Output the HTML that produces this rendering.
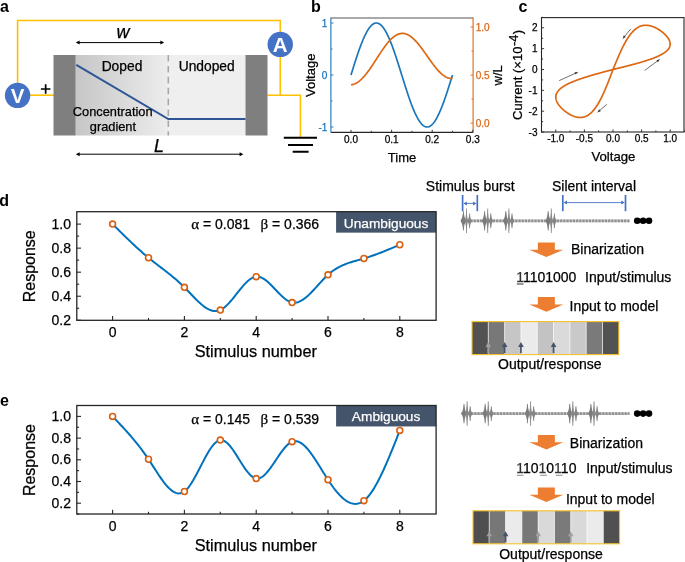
<!DOCTYPE html>
<html><head><meta charset="utf-8"><style>
html,body{margin:0;padding:0;background:#fff;width:685px;height:562px;overflow:hidden}
svg{display:block}
</style></head><body>
<svg width="685" height="562" viewBox="0 0 685 562" font-family="'Liberation Sans', Arial, sans-serif">
<rect width="685" height="562" fill="#fff"/>
<text x="0" y="12" font-size="16" text-anchor="start" fill="#000" font-weight="bold">a</text>
<g fill="none" stroke="#ffc000" stroke-width="1.6">
<path d="M17.6 84 V20.5 H280.25 V33"/>
<path d="M280.25 56 V95.2"/>
<path d="M30 95.2 H54"/>
<path d="M267.5 95.2 H300.4 V137"/>
</g>
<g stroke="#000" stroke-width="1.9">
<path d="M283.8 137.7 H317 M288 145 H313 M292.7 151.7 H308.6"/>
</g>
<defs><linearGradient id="gr" x1="0" x2="1" y1="0" y2="0"><stop offset="0" stop-color="#c6c6c6"/><stop offset="1" stop-color="#ededed"/></linearGradient></defs>
<rect x="75.6" y="55" width="92.7" height="80.5" fill="url(#gr)"/>
<rect x="168.3" y="55" width="77.2" height="80.5" fill="#efefef"/>
<rect x="53.5" y="55" width="22.1" height="80.5" fill="#7f7f7f"/>
<rect x="245.5" y="55" width="22" height="80.5" fill="#7f7f7f"/>
<line x1="168.3" y1="55" x2="168.3" y2="135.5" stroke="#a8a8a8" stroke-width="1.6" stroke-dasharray="6.6 4.3"/>
<path d="M76.3 64.8 L168.3 119 H245.5" fill="none" stroke="#2f5597" stroke-width="2"/>
<circle cx="17.6" cy="95.4" r="12.7" fill="#4472c4"/>
<text x="17.6" y="103.2" font-size="20.5" text-anchor="middle" fill="#fff" font-weight="bold">V</text>
<circle cx="280.25" cy="44.4" r="12.7" fill="#4472c4"/>
<text x="280.25" y="51.7" font-size="20.5" text-anchor="middle" fill="#fff" font-weight="bold">A</text>
<path d="M40.9 89 H50.4 M45.65 84.3 V93.8" stroke="#000" stroke-width="1.7"/>
<text x="122" y="71.4" font-size="13.8" text-anchor="middle" fill="#000" stroke="#000" stroke-width="0.25" >Doped</text>
<text x="206.7" y="71.4" font-size="13.8" text-anchor="middle" fill="#000" stroke="#000" stroke-width="0.25" >Undoped</text>
<text x="112.7" y="116.2" font-size="12.8" text-anchor="middle" fill="#000" stroke="#000" stroke-width="0.25" >Concentration</text>
<text x="112.9" y="131.4" font-size="12.8" text-anchor="middle" fill="#000" stroke="#000" stroke-width="0.25" >gradient</text>
<line x1="78.8" y1="42.6" x2="161.2" y2="42.6" stroke="#000" stroke-width="1"/>
<path d="M75.8 42.6 l3.8 -2 v4 z M164.2 42.6 l-3.8 -2 v4 z" fill="#000"/>
<line x1="78.8" y1="154.2" x2="240.4" y2="154.2" stroke="#000" stroke-width="1"/>
<path d="M75.8 154.2 l3.8 -2 v4 z M243.4 154.2 l-3.8 -2 v4 z" fill="#000"/>
<text x="123" y="37.5" font-size="18" text-anchor="middle" fill="#000" stroke="#000" stroke-width="0.25" font-style="italic">w</text>
<text x="159" y="151.8" font-size="18" text-anchor="middle" fill="#000" stroke="#000" stroke-width="0.25" font-style="italic">L</text>
<text x="311" y="11.6" font-size="16" text-anchor="start" fill="#000" font-weight="bold">b</text>
<polyline points="351.00,75.00 351.51,73.36 352.02,71.72 352.53,70.08 353.04,68.45 353.55,66.82 354.06,65.21 354.57,63.60 355.08,62.00 355.59,60.42 356.10,58.85 356.61,57.30 357.12,55.77 357.63,54.25 358.14,52.76 358.65,51.28 359.16,49.83 359.67,48.41 360.18,47.01 360.69,45.64 361.20,44.30 361.71,42.99 362.22,41.71 362.73,40.47 363.24,39.26 363.75,38.09 364.26,36.95 364.77,35.85 365.28,34.79 365.79,33.77 366.30,32.79 366.81,31.85 367.32,30.95 367.83,30.10 368.34,29.30 368.85,28.54 369.36,27.82 369.87,27.16 370.38,26.54 370.89,25.97 371.40,25.44 371.91,24.97 372.42,24.55 372.93,24.18 373.44,23.85 373.95,23.58 374.46,23.36 374.97,23.20 375.48,23.08 375.99,23.01 376.50,23.00 377.01,23.04 377.52,23.13 378.03,23.27 378.54,23.47 379.05,23.71 379.56,24.01 380.07,24.36 380.58,24.75 381.09,25.20 381.60,25.70 382.11,26.25 382.62,26.84 383.13,27.48 383.64,28.18 384.15,28.91 384.66,29.70 385.17,30.52 385.68,31.40 386.19,32.31 386.70,33.27 387.21,34.27 387.72,35.31 388.23,36.39 388.74,37.51 389.25,38.67 389.76,39.86 390.27,41.09 390.78,42.35 391.29,43.64 391.80,44.97 392.31,46.32 392.82,47.71 393.33,49.12 393.84,50.56 394.35,52.02 394.86,53.50 395.37,55.01 395.88,56.53 396.39,58.07 396.90,59.64 397.41,61.21 397.92,62.80 398.43,64.40 398.94,66.02 399.45,67.64 399.96,69.27 400.47,70.90 400.98,72.54 401.49,74.18 402.01,75.82 402.52,77.46 403.03,79.10 403.54,80.73 404.05,82.36 404.56,83.98 405.07,85.60 405.58,87.20 406.09,88.79 406.60,90.36 407.11,91.93 407.62,93.47 408.13,94.99 408.64,96.50 409.15,97.98 409.66,99.44 410.17,100.88 410.68,102.29 411.19,103.68 411.70,105.03 412.21,106.36 412.72,107.65 413.23,108.91 413.74,110.14 414.25,111.33 414.76,112.49 415.27,113.61 415.78,114.69 416.29,115.73 416.80,116.73 417.31,117.69 417.82,118.60 418.33,119.48 418.84,120.30 419.35,121.09 419.86,121.82 420.37,122.52 420.88,123.16 421.39,123.75 421.90,124.30 422.41,124.80 422.92,125.25 423.43,125.64 423.94,125.99 424.45,126.29 424.96,126.53 425.47,126.73 425.98,126.87 426.49,126.96 427.00,127.00 427.51,126.99 428.02,126.92 428.53,126.80 429.04,126.64 429.55,126.42 430.06,126.15 430.57,125.82 431.08,125.45 431.59,125.03 432.10,124.56 432.61,124.03 433.12,123.46 433.63,122.84 434.14,122.18 434.65,121.46 435.16,120.70 435.67,119.90 436.18,119.05 436.69,118.15 437.20,117.21 437.71,116.23 438.22,115.21 438.73,114.15 439.24,113.05 439.75,111.91 440.26,110.74 440.77,109.53 441.28,108.29 441.79,107.01 442.30,105.70 442.81,104.36 443.32,102.99 443.83,101.59 444.34,100.17 444.85,98.72 445.36,97.24 445.87,95.75 446.38,94.23 446.89,92.70 447.40,91.15 447.91,89.58 448.42,88.00 448.93,86.40 449.44,84.79 449.95,83.18 450.46,81.55 450.97,79.92 451.48,78.28 451.99,76.64 452.50,75.00" fill="none" stroke="#1a77bb" stroke-width="1.7"/>
<polyline points="351.00,84.76 351.51,84.72 352.02,84.65 352.53,84.56 353.04,84.44 353.55,84.30 354.06,84.14 354.57,83.95 355.08,83.74 355.59,83.51 356.10,83.25 356.61,82.98 357.12,82.67 357.63,82.35 358.14,82.00 358.65,81.64 359.16,81.25 359.67,80.84 360.18,80.41 360.69,79.96 361.20,79.48 361.71,78.99 362.22,78.48 362.73,77.96 363.24,77.41 363.75,76.85 364.26,76.27 364.77,75.67 365.28,75.06 365.79,74.43 366.30,73.79 366.81,73.13 367.32,72.47 367.83,71.78 368.34,71.09 368.85,70.38 369.36,69.67 369.87,68.94 370.38,68.20 370.89,67.46 371.40,66.71 371.91,65.95 372.42,65.18 372.93,64.41 373.44,63.63 373.95,62.85 374.46,62.06 374.97,61.27 375.48,60.48 375.99,59.69 376.50,58.90 377.01,58.11 377.52,57.32 378.03,56.53 378.54,55.74 379.05,54.95 379.56,54.17 380.07,53.40 380.58,52.63 381.09,51.87 381.60,51.11 382.11,50.36 382.62,49.62 383.13,48.89 383.64,48.17 384.15,47.46 384.66,46.76 385.17,46.07 385.68,45.39 386.19,44.73 386.70,44.08 387.21,43.44 387.72,42.82 388.23,42.22 388.74,41.63 389.25,41.06 389.76,40.51 390.27,39.97 390.78,39.45 391.29,38.95 391.80,38.47 392.31,38.01 392.82,37.57 393.33,37.15 393.84,36.75 394.35,36.37 394.86,36.01 395.37,35.68 395.88,35.37 396.39,35.07 396.90,34.81 397.41,34.56 397.92,34.34 398.43,34.14 398.94,33.97 399.45,33.82 399.96,33.69 400.47,33.59 400.98,33.51 401.49,33.45 402.01,33.42 402.52,33.41 403.03,33.43 403.54,33.47 404.05,33.53 404.56,33.62 405.07,33.73 405.58,33.87 406.09,34.03 406.60,34.21 407.11,34.42 407.62,34.64 408.13,34.89 408.64,35.17 409.15,35.46 409.66,35.78 410.17,36.11 410.68,36.47 411.19,36.85 411.70,37.25 412.21,37.66 412.72,38.10 413.23,38.56 413.74,39.03 414.25,39.52 414.76,40.03 415.27,40.56 415.78,41.10 416.29,41.66 416.80,42.23 417.31,42.81 417.82,43.41 418.33,44.03 418.84,44.65 419.35,45.29 419.86,45.94 420.37,46.60 420.88,47.27 421.39,47.94 421.90,48.63 422.41,49.32 422.92,50.02 423.43,50.73 423.94,51.44 424.45,52.16 424.96,52.88 425.47,53.61 425.98,54.33 426.49,55.06 427.00,55.79 427.51,56.52 428.02,57.25 428.53,57.98 429.04,58.70 429.55,59.43 430.06,60.14 430.57,60.86 431.08,61.57 431.59,62.27 432.10,62.97 432.61,63.66 433.12,64.34 433.63,65.02 434.14,65.68 434.65,66.33 435.16,66.98 435.67,67.61 436.18,68.23 436.69,68.83 437.20,69.43 437.71,70.01 438.22,70.57 438.73,71.12 439.24,71.65 439.75,72.17 440.26,72.67 440.77,73.15 441.28,73.62 441.79,74.07 442.30,74.49 442.81,74.90 443.32,75.29 443.83,75.66 444.34,76.01 444.85,76.33 445.36,76.64 445.87,76.92 446.38,77.18 446.89,77.42 447.40,77.64 447.91,77.83 448.42,78.00 448.93,78.15 449.44,78.27 449.95,78.37 450.46,78.45 450.97,78.50 451.48,78.53 451.99,78.53 452.50,78.51" fill="none" stroke="#dd6814" stroke-width="1.7"/>
<line x1="330.9" y1="18" x2="473.1" y2="18" stroke="#555" stroke-width="1.1"/>
<line x1="330.9" y1="132.4" x2="473.1" y2="132.4" stroke="#262626" stroke-width="1.1"/>
<line x1="330.9" y1="17.5" x2="330.9" y2="132.4" stroke="#1a77bb" stroke-width="1.1"/>
<line x1="473.1" y1="17.5" x2="473.1" y2="132.4" stroke="#dd6814" stroke-width="1.1"/>
<line x1="351.00" y1="132.4" x2="351.00" y2="129.8" stroke="#262626" stroke-width="0.9"/>
<text x="351.00" y="143.2" font-size="10" text-anchor="middle" fill="#000" stroke="#000" stroke-width="0.25" >0.0</text>
<line x1="371.30" y1="132.4" x2="371.30" y2="130.8" stroke="#262626" stroke-width="0.9"/>
<line x1="391.60" y1="132.4" x2="391.60" y2="129.8" stroke="#262626" stroke-width="0.9"/>
<text x="391.60" y="143.2" font-size="10" text-anchor="middle" fill="#000" stroke="#000" stroke-width="0.25" >0.1</text>
<line x1="411.90" y1="132.4" x2="411.90" y2="130.8" stroke="#262626" stroke-width="0.9"/>
<line x1="432.20" y1="132.4" x2="432.20" y2="129.8" stroke="#262626" stroke-width="0.9"/>
<text x="432.20" y="143.2" font-size="10" text-anchor="middle" fill="#000" stroke="#000" stroke-width="0.25" >0.2</text>
<line x1="452.50" y1="132.4" x2="452.50" y2="130.8" stroke="#262626" stroke-width="0.9"/>
<line x1="472.80" y1="132.4" x2="472.80" y2="129.8" stroke="#262626" stroke-width="0.9"/>
<text x="472.80" y="143.2" font-size="10" text-anchor="middle" fill="#000" stroke="#000" stroke-width="0.25" >0.3</text>
<line x1="330.9" y1="23.00" x2="333.5" y2="23.00" stroke="#1a77bb" stroke-width="0.9"/>
<text x="327.4" y="26.60" font-size="10" text-anchor="end" fill="#1a77bb" stroke="#1a77bb" stroke-width="0.25" >1</text>
<line x1="330.9" y1="49.00" x2="332.5" y2="49.00" stroke="#1a77bb" stroke-width="0.9"/>
<line x1="330.9" y1="75.00" x2="333.5" y2="75.00" stroke="#1a77bb" stroke-width="0.9"/>
<text x="327.4" y="78.60" font-size="10" text-anchor="end" fill="#1a77bb" stroke="#1a77bb" stroke-width="0.25" >0</text>
<line x1="330.9" y1="101.00" x2="332.5" y2="101.00" stroke="#1a77bb" stroke-width="0.9"/>
<line x1="330.9" y1="127.00" x2="333.5" y2="127.00" stroke="#1a77bb" stroke-width="0.9"/>
<text x="327.4" y="130.60" font-size="10" text-anchor="end" fill="#1a77bb" stroke="#1a77bb" stroke-width="0.25" >-1</text>
<line x1="473.1" y1="123.20" x2="470.5" y2="123.20" stroke="#dd6814" stroke-width="0.9"/>
<text x="475.70000000000005" y="126.80" font-size="10" text-anchor="start" fill="#dd6814" stroke="#dd6814" stroke-width="0.25" >0.0</text>
<line x1="473.1" y1="99.18" x2="471.5" y2="99.18" stroke="#dd6814" stroke-width="0.9"/>
<line x1="473.1" y1="75.15" x2="470.5" y2="75.15" stroke="#dd6814" stroke-width="0.9"/>
<text x="475.70000000000005" y="78.75" font-size="10" text-anchor="start" fill="#dd6814" stroke="#dd6814" stroke-width="0.25" >0.5</text>
<line x1="473.1" y1="51.13" x2="471.5" y2="51.13" stroke="#dd6814" stroke-width="0.9"/>
<line x1="473.1" y1="27.10" x2="470.5" y2="27.10" stroke="#dd6814" stroke-width="0.9"/>
<text x="475.70000000000005" y="30.70" font-size="10" text-anchor="start" fill="#dd6814" stroke="#dd6814" stroke-width="0.25" >1.0</text>
<text x="402" y="162.2" font-size="13" text-anchor="middle" fill="#000" stroke="#000" stroke-width="0.25" >Time</text>
<text transform="translate(314.5 75.3) rotate(-90)" font-size="13" text-anchor="middle" stroke="#000" stroke-width="0.25">Voltage</text>
<text transform="translate(501.5 75.3) rotate(-90)" font-size="13" text-anchor="middle" stroke="#000" stroke-width="0.25">w/L</text>
<text x="518.5" y="11.8" font-size="16" text-anchor="start" fill="#000" font-weight="bold">c</text>
<polyline points="613.00,69.50 613.45,69.39 613.90,69.28 614.35,69.17 614.80,69.06 615.25,68.95 615.70,68.84 616.15,68.73 616.60,68.62 617.04,68.51 617.49,68.40 617.94,68.29 618.39,68.18 618.84,68.07 619.28,67.96 619.73,67.85 620.18,67.74 620.62,67.63 621.07,67.52 621.51,67.41 621.96,67.30 622.40,67.19 622.85,67.08 623.29,66.97 623.73,66.86 624.17,66.75 624.61,66.64 625.05,66.53 625.49,66.42 625.93,66.31 626.37,66.20 626.81,66.08 627.24,65.97 627.68,65.86 628.11,65.75 628.55,65.64 628.98,65.53 629.41,65.42 629.84,65.31 630.27,65.19 630.70,65.08 631.12,64.97 631.55,64.86 631.98,64.75 632.40,64.63 632.82,64.52 633.24,64.41 633.66,64.30 634.08,64.19 634.50,64.07 634.92,63.96 635.33,63.85 635.74,63.73 636.16,63.62 636.57,63.51 636.98,63.39 637.38,63.28 637.79,63.17 638.19,63.05 638.60,62.94 639.00,62.83 639.40,62.71 639.80,62.60 640.19,62.48 640.59,62.37 640.98,62.25 641.37,62.14 641.76,62.02 642.15,61.91 642.54,61.79 642.92,61.68 643.30,61.56 643.68,61.44 644.06,61.33 644.44,61.21 644.81,61.10 645.19,60.98 645.56,60.86 645.93,60.74 646.29,60.63 646.66,60.51 647.02,60.39 647.38,60.27 647.74,60.16 648.10,60.04 648.45,59.92 648.80,59.80 649.15,59.68 649.50,59.56 649.84,59.44 650.19,59.32 650.53,59.20 650.87,59.08 651.20,58.96 651.54,58.84 651.87,58.72 652.20,58.60 652.52,58.48 652.85,58.36 653.17,58.23 653.49,58.11 653.80,57.99 654.12,57.87 654.43,57.74 654.74,57.62 655.04,57.50 655.35,57.37 655.65,57.25 655.95,57.13 656.24,57.00 656.54,56.88 656.83,56.75 657.11,56.63 657.40,56.50 657.68,56.37 657.96,56.25 658.24,56.12 658.51,55.99 658.78,55.87 659.05,55.74 659.32,55.61 659.58,55.48 659.84,55.35 660.09,55.23 660.35,55.10 660.60,54.97 660.85,54.84 661.09,54.71 661.33,54.58 661.57,54.45 661.81,54.31 662.04,54.18 662.27,54.05 662.50,53.92 662.72,53.79 662.94,53.65 663.16,53.52 663.38,53.38 663.59,53.25 663.80,53.12 664.00,52.98 664.20,52.85 664.40,52.71 664.60,52.57 664.79,52.44 664.98,52.30 665.17,52.16 665.35,52.03 665.53,51.89 665.70,51.75 665.88,51.61 666.05,51.47 666.21,51.33 666.38,51.19 666.54,51.05 666.69,50.91 666.85,50.77 667.00,50.63 667.14,50.48 667.29,50.34 667.43,50.20 667.56,50.05 667.70,49.91 667.83,49.76 667.95,49.62 668.08,49.47 668.20,49.33 668.31,49.18 668.43,49.03 668.54,48.89 668.64,48.74 668.74,48.59 668.84,48.44 668.94,48.29 669.03,48.14 669.12,47.99 669.21,47.84 669.29,47.69 669.37,47.54 669.44,47.38 669.51,47.23 669.58,47.08 669.64,46.92 669.70,46.77 669.76,46.61 669.82,46.46 669.87,46.30 669.91,46.15 669.96,45.99 670.00,45.83 670.03,45.67 670.06,45.52 670.09,45.36 670.12,45.20 670.14,45.04 670.16,44.88 670.18,44.71 670.19,44.55 670.19,44.39 670.20,44.23 670.20,44.06 670.20,43.90 670.19,43.74 670.18,43.57 670.17,43.41 670.15,43.24 670.13,43.07 670.11,42.91 670.08,42.74 670.05,42.57 670.01,42.40 669.98,42.23 669.93,42.06 669.89,41.89 669.84,41.72 669.79,41.55 669.73,41.38 669.67,41.21 669.61,41.03 669.55,40.86 669.48,40.69 669.40,40.51 669.33,40.34 669.25,40.16 669.16,39.99 669.08,39.81 668.99,39.63 668.89,39.46 668.79,39.28 668.69,39.10 668.59,38.92 668.48,38.74 668.37,38.56 668.26,38.38 668.14,38.20 668.02,38.02 667.89,37.84 667.76,37.66 667.63,37.48 667.50,37.30 667.36,37.11 667.22,36.93 667.07,36.75 666.92,36.56 666.77,36.38 666.62,36.20 666.46,36.01 666.30,35.83 666.13,35.64 665.96,35.46 665.79,35.28 665.62,35.09 665.44,34.91 665.26,34.72 665.07,34.54 664.89,34.35 664.69,34.17 664.50,33.98 664.30,33.80 664.10,33.61 663.90,33.43 663.69,33.24 663.48,33.06 663.27,32.87 663.05,32.69 662.83,32.51 662.61,32.32 662.39,32.14 662.16,31.96 661.93,31.78 661.69,31.60 661.45,31.42 661.21,31.24 660.97,31.06 660.72,30.88 660.47,30.71 660.22,30.53 659.97,30.35 659.71,30.18 659.45,30.01 659.18,29.84 658.92,29.67 658.65,29.50 658.37,29.33 658.10,29.16 657.82,29.00 657.54,28.84 657.26,28.68 656.97,28.52 656.68,28.36 656.39,28.21 656.09,28.05 655.80,27.90 655.50,27.76 655.20,27.61 654.89,27.47 654.58,27.33 654.27,27.19 653.96,27.06 653.64,26.93 653.33,26.81 653.01,26.68 652.68,26.56 652.36,26.45 652.03,26.34 651.70,26.23 651.37,26.13 651.03,26.03 650.70,25.94 650.36,25.85 650.02,25.77 649.67,25.69 649.33,25.62 648.98,25.56 648.63,25.50 648.27,25.44 647.92,25.40 647.56,25.36 647.20,25.32 646.84,25.30 646.48,25.28 646.11,25.27 645.74,25.27 645.37,25.28 645.00,25.29 644.63,25.32 644.25,25.35 643.87,25.39 643.49,25.44 643.11,25.51 642.73,25.58 642.34,25.66 641.96,25.76 641.57,25.87 641.18,25.98 640.78,26.12 640.39,26.26 639.99,26.41 639.60,26.58 639.20,26.77 638.80,26.96 638.40,27.17 637.99,27.40 637.59,27.64 637.18,27.89 636.77,28.16 636.36,28.45 635.95,28.75 635.54,29.07 635.12,29.40 634.71,29.76 634.29,30.13 633.87,30.52 633.45,30.92 633.03,31.35 632.61,31.79 632.19,32.25 631.76,32.73 631.34,33.23 630.91,33.75 630.48,34.29 630.05,34.84 629.62,35.42 629.19,36.02 628.76,36.64 628.33,37.28 627.89,37.93 627.46,38.61 627.02,39.31 626.59,40.03 626.15,40.76 625.71,41.52 625.27,42.30 624.83,43.09 624.39,43.91 623.95,44.74 623.51,45.59 623.07,46.46 622.62,47.35 622.18,48.25 621.74,49.18 621.29,50.11 620.85,51.07 620.40,52.03 619.95,53.02 619.51,54.01 619.06,55.02 618.61,56.04 618.17,57.08 617.72,58.12 617.27,59.17 616.82,60.23 616.37,61.31 615.92,62.38 615.47,63.47 615.02,64.56 614.57,65.65 614.12,66.75 613.67,67.85 613.22,68.95 612.78,70.10 612.33,71.29 611.88,72.49 611.43,73.68 610.98,74.86 610.53,76.05 610.08,77.22 609.63,78.39 609.18,79.55 608.73,80.70 608.28,81.85 607.83,82.98 607.39,84.10 606.94,85.21 606.49,86.30 606.05,87.38 605.60,88.45 605.15,89.50 604.71,90.53 604.26,91.55 603.82,92.55 603.38,93.53 602.93,94.49 602.49,95.44 602.05,96.36 601.61,97.27 601.17,98.15 600.73,99.01 600.29,99.86 599.85,100.68 599.41,101.48 598.98,102.26 598.54,103.01 598.11,103.75 597.67,104.46 597.24,105.15 596.81,105.82 596.38,106.47 595.95,107.10 595.52,107.70 595.09,108.29 594.66,108.85 594.24,109.39 593.81,109.91 593.39,110.42 592.97,110.90 592.55,111.36 592.13,111.80 591.71,112.22 591.29,112.62 590.88,113.00 590.46,113.37 590.05,113.71 589.64,114.04 589.23,114.35 588.82,114.64 588.41,114.92 588.01,115.18 587.60,115.42 587.20,115.65 586.80,115.87 586.40,116.06 586.01,116.25 585.61,116.42 585.22,116.57 584.82,116.71 584.43,116.84 584.04,116.96 583.66,117.06 583.27,117.15 582.89,117.23 582.51,117.30 582.13,117.36 581.75,117.40 581.37,117.44 581.00,117.46 580.63,117.48 580.26,117.49 579.89,117.49 579.52,117.47 579.16,117.46 578.80,117.43 578.44,117.39 578.08,117.35 577.73,117.30 577.37,117.24 577.02,117.18 576.67,117.11 576.33,117.03 575.98,116.95 575.64,116.86 575.30,116.76 574.97,116.66 574.63,116.55 574.30,116.44 573.97,116.33 573.64,116.21 573.32,116.08 572.99,115.95 572.67,115.82 572.36,115.68 572.04,115.54 571.73,115.40 571.42,115.25 571.11,115.10 570.80,114.95 570.50,114.79 570.20,114.63 569.91,114.47 569.61,114.30 569.32,114.13 569.03,113.96 568.74,113.79 568.46,113.62 568.18,113.44 567.90,113.26 567.63,113.08 567.35,112.90 567.08,112.72 566.82,112.53 566.55,112.35 566.29,112.16 566.03,111.97 565.78,111.78 565.53,111.59 565.28,111.40 565.03,111.21 564.79,111.01 564.55,110.82 564.31,110.62 564.07,110.43 563.84,110.23 563.61,110.03 563.39,109.83 563.17,109.63 562.95,109.44 562.73,109.24 562.52,109.04 562.31,108.84 562.10,108.64 561.90,108.44 561.70,108.24 561.50,108.04 561.31,107.84 561.11,107.64 560.93,107.43 560.74,107.23 560.56,107.03 560.38,106.83 560.21,106.63 560.04,106.43 559.87,106.23 559.70,106.03 559.54,105.83 559.38,105.63 559.23,105.43 559.08,105.23 558.93,105.03 558.78,104.84 558.64,104.64 558.50,104.44 558.37,104.24 558.24,104.05 558.11,103.85 557.98,103.65 557.86,103.46 557.74,103.26 557.63,103.07 557.52,102.87 557.41,102.68 557.31,102.48 557.21,102.29 557.11,102.10 557.01,101.90 556.92,101.71 556.84,101.52 556.75,101.33 556.67,101.14 556.60,100.95 556.52,100.76 556.45,100.57 556.39,100.39 556.33,100.20 556.27,100.01 556.21,99.82 556.16,99.64 556.11,99.45 556.07,99.27 556.02,99.08 555.99,98.90 555.95,98.72 555.92,98.54 555.89,98.35 555.87,98.17 555.85,97.99 555.83,97.81 555.82,97.63 555.81,97.45 555.80,97.27 555.80,97.10 555.80,96.92 555.81,96.74 555.81,96.57 555.82,96.39 555.84,96.22 555.86,96.04 555.88,95.87 555.91,95.69 555.94,95.52 555.97,95.35 556.00,95.18 556.04,95.01 556.09,94.84 556.13,94.67 556.18,94.50 556.24,94.33 556.30,94.16 556.36,93.99 556.42,93.83 556.49,93.66 556.56,93.49 556.63,93.33 556.71,93.16 556.79,93.00 556.88,92.84 556.97,92.67 557.06,92.51 557.16,92.35 557.26,92.19 557.36,92.03 557.46,91.87 557.57,91.71 557.69,91.55 557.80,91.39 557.92,91.23 558.05,91.07 558.17,90.91 558.30,90.76 558.44,90.60 558.57,90.44 558.71,90.29 558.86,90.13 559.00,89.98 559.15,89.82 559.31,89.67 559.46,89.52 559.62,89.37 559.79,89.21 559.95,89.06 560.12,88.91 560.30,88.76 560.47,88.61 560.65,88.46 560.83,88.31 561.02,88.16 561.21,88.01 561.40,87.86 561.60,87.72 561.80,87.57 562.00,87.42 562.20,87.28 562.41,87.13 562.62,86.98 562.84,86.84 563.06,86.69 563.28,86.55 563.50,86.41 563.73,86.26 563.96,86.12 564.19,85.98 564.43,85.83 564.67,85.69 564.91,85.55 565.15,85.41 565.40,85.27 565.65,85.13 565.91,84.99 566.16,84.85 566.42,84.71 566.68,84.57 566.95,84.43 567.22,84.29 567.49,84.15 567.76,84.02 568.04,83.88 568.32,83.74 568.60,83.60 568.89,83.47 569.17,83.33 569.46,83.20 569.76,83.06 570.05,82.93 570.35,82.79 570.65,82.66 570.96,82.52 571.26,82.39 571.57,82.25 571.88,82.12 572.20,81.99 572.51,81.86 572.83,81.72 573.15,81.59 573.48,81.46 573.80,81.33 574.13,81.20 574.46,81.06 574.80,80.93 575.13,80.80 575.47,80.67 575.81,80.54 576.16,80.41 576.50,80.28 576.85,80.15 577.20,80.02 577.55,79.90 577.90,79.77 578.26,79.64 578.62,79.51 578.98,79.38 579.34,79.25 579.71,79.13 580.07,79.00 580.44,78.87 580.81,78.75 581.19,78.62 581.56,78.49 581.94,78.37 582.32,78.24 582.70,78.11 583.08,77.99 583.46,77.86 583.85,77.74 584.24,77.61 584.63,77.49 585.02,77.36 585.41,77.24 585.81,77.11 586.20,76.99 586.60,76.87 587.00,76.74 587.40,76.62 587.81,76.49 588.21,76.37 588.62,76.25 589.02,76.12 589.43,76.00 589.84,75.88 590.26,75.76 590.67,75.63 591.08,75.51 591.50,75.39 591.92,75.27 592.34,75.14 592.76,75.02 593.18,74.90 593.60,74.78 594.02,74.66 594.45,74.54 594.88,74.41 595.30,74.29 595.73,74.17 596.16,74.05 596.59,73.93 597.02,73.81 597.45,73.69 597.89,73.57 598.32,73.45 598.76,73.33 599.19,73.21 599.63,73.09 600.07,72.97 600.51,72.85 600.95,72.72 601.39,72.60 601.83,72.48 602.27,72.37 602.71,72.25 603.15,72.13 603.60,72.01 604.04,71.89 604.49,71.77 604.93,71.65 605.38,71.53 605.82,71.41 606.27,71.29 606.72,71.17 607.16,71.05 607.61,70.93 608.06,70.81 608.51,70.69 608.96,70.57 609.40,70.45 609.85,70.33 610.30,70.21 610.75,70.10 611.20,69.98 611.65,69.86 612.10,69.74 612.55,69.62 613.00,69.50" fill="none" stroke="#dd6814" stroke-width="1.7"/>
<rect x="541.5" y="17.6" width="142.5" height="114.4" fill="none" stroke="#262626" stroke-width="1.1"/>
<line x1="541.5" y1="132.05" x2="544.1" y2="132.05" stroke="#262626" stroke-width="0.9"/>
<text x="537.5" y="135.65" font-size="10" text-anchor="end" fill="#000" stroke="#000" stroke-width="0.25" >-3</text>
<line x1="541.5" y1="121.62" x2="543.1" y2="121.62" stroke="#262626" stroke-width="0.9"/>
<line x1="541.5" y1="111.20" x2="544.1" y2="111.20" stroke="#262626" stroke-width="0.9"/>
<text x="537.5" y="114.80" font-size="10" text-anchor="end" fill="#000" stroke="#000" stroke-width="0.25" >-2</text>
<line x1="541.5" y1="100.78" x2="543.1" y2="100.78" stroke="#262626" stroke-width="0.9"/>
<line x1="541.5" y1="90.35" x2="544.1" y2="90.35" stroke="#262626" stroke-width="0.9"/>
<text x="537.5" y="93.95" font-size="10" text-anchor="end" fill="#000" stroke="#000" stroke-width="0.25" >-1</text>
<line x1="541.5" y1="79.92" x2="543.1" y2="79.92" stroke="#262626" stroke-width="0.9"/>
<line x1="541.5" y1="69.50" x2="544.1" y2="69.50" stroke="#262626" stroke-width="0.9"/>
<text x="537.5" y="73.10" font-size="10" text-anchor="end" fill="#000" stroke="#000" stroke-width="0.25" >0</text>
<line x1="541.5" y1="59.08" x2="543.1" y2="59.08" stroke="#262626" stroke-width="0.9"/>
<line x1="541.5" y1="48.65" x2="544.1" y2="48.65" stroke="#262626" stroke-width="0.9"/>
<text x="537.5" y="52.25" font-size="10" text-anchor="end" fill="#000" stroke="#000" stroke-width="0.25" >1</text>
<line x1="541.5" y1="38.22" x2="543.1" y2="38.22" stroke="#262626" stroke-width="0.9"/>
<line x1="541.5" y1="27.80" x2="544.1" y2="27.80" stroke="#262626" stroke-width="0.9"/>
<text x="537.5" y="31.40" font-size="10" text-anchor="end" fill="#000" stroke="#000" stroke-width="0.25" >2</text>
<line x1="541.5" y1="17.38" x2="543.1" y2="17.38" stroke="#262626" stroke-width="0.9"/>
<line x1="541.50" y1="132" x2="541.50" y2="130.4" stroke="#262626" stroke-width="0.9"/>
<line x1="555.80" y1="132" x2="555.80" y2="129.4" stroke="#262626" stroke-width="0.9"/>
<text x="555.80" y="142.4" font-size="10" text-anchor="middle" fill="#000" stroke="#000" stroke-width="0.25" >-1.0</text>
<line x1="570.10" y1="132" x2="570.10" y2="130.4" stroke="#262626" stroke-width="0.9"/>
<line x1="584.40" y1="132" x2="584.40" y2="129.4" stroke="#262626" stroke-width="0.9"/>
<text x="584.40" y="142.4" font-size="10" text-anchor="middle" fill="#000" stroke="#000" stroke-width="0.25" >-0.5</text>
<line x1="598.70" y1="132" x2="598.70" y2="130.4" stroke="#262626" stroke-width="0.9"/>
<line x1="613.00" y1="132" x2="613.00" y2="129.4" stroke="#262626" stroke-width="0.9"/>
<text x="613.00" y="142.4" font-size="10" text-anchor="middle" fill="#000" stroke="#000" stroke-width="0.25" >0.0</text>
<line x1="627.30" y1="132" x2="627.30" y2="130.4" stroke="#262626" stroke-width="0.9"/>
<line x1="641.60" y1="132" x2="641.60" y2="129.4" stroke="#262626" stroke-width="0.9"/>
<text x="641.60" y="142.4" font-size="10" text-anchor="middle" fill="#000" stroke="#000" stroke-width="0.25" >0.5</text>
<line x1="655.90" y1="132" x2="655.90" y2="130.4" stroke="#262626" stroke-width="0.9"/>
<line x1="670.20" y1="132" x2="670.20" y2="129.4" stroke="#262626" stroke-width="0.9"/>
<text x="670.20" y="142.4" font-size="10" text-anchor="middle" fill="#000" stroke="#000" stroke-width="0.25" >1.0</text>
<line x1="684.50" y1="132" x2="684.50" y2="130.4" stroke="#262626" stroke-width="0.9"/>
<text x="613.4" y="160.6" font-size="13.2" text-anchor="middle" fill="#000" stroke="#000" stroke-width="0.25" >Voltage</text>
<text transform="translate(522.4 74.9) rotate(-90)" font-size="13" text-anchor="middle" stroke="#000" stroke-width="0.25">Current (×10<tspan dy="-4.3" dx="0.5">-4</tspan><tspan dy="4.3" dx="0.3">)</tspan></text>
<line x1="630.8" y1="28.9" x2="622.9" y2="38.5" stroke="#333" stroke-width="0.7"/>
<path d="M622.90 38.50 L623.80 35.36 L625.81 37.01 z" fill="#333"/>
<line x1="644.6" y1="70.5" x2="659.6" y2="59.4" stroke="#333" stroke-width="0.7"/>
<path d="M659.60 59.40 L657.96 62.23 L656.42 60.14 z" fill="#333"/>
<line x1="559.2" y1="80.6" x2="577.8" y2="72.2" stroke="#333" stroke-width="0.7"/>
<path d="M577.80 72.20 L575.60 74.62 L574.53 72.25 z" fill="#333"/>
<line x1="606.8" y1="104.3" x2="597.7" y2="112.2" stroke="#333" stroke-width="0.7"/>
<path d="M597.70 112.20 L599.11 109.25 L600.82 111.21 z" fill="#333"/>
<text x="-0.8" y="206.4" font-size="16" text-anchor="start" fill="#000" font-weight="bold">d</text>
<polyline points="112.60,224.10 114.04,225.53 115.47,226.96 116.91,228.38 118.34,229.81 119.78,231.23 121.22,232.64 122.65,234.06 124.09,235.46 125.52,236.86 126.96,238.26 128.40,239.64 129.83,241.02 131.27,242.39 132.70,243.74 134.14,245.09 135.58,246.42 137.01,247.74 138.45,249.05 139.88,250.34 141.32,251.62 142.76,252.88 144.19,254.13 145.63,255.36 147.06,256.57 148.50,257.76 149.94,258.93 151.37,260.08 152.81,261.22 154.24,262.35 155.68,263.46 157.12,264.57 158.55,265.67 159.99,266.77 161.42,267.87 162.86,268.97 164.30,270.08 165.73,271.19 167.17,272.31 168.60,273.44 170.04,274.59 171.48,275.75 172.91,276.93 174.35,278.13 175.78,279.35 177.22,280.60 178.66,281.88 180.09,283.19 181.53,284.53 182.96,285.91 184.40,287.33 185.84,288.78 187.27,290.26 188.71,291.76 190.14,293.28 191.58,294.79 193.02,296.30 194.45,297.79 195.89,299.24 197.32,300.66 198.76,302.03 200.20,303.34 201.63,304.59 203.07,305.75 204.50,306.83 205.94,307.81 207.38,308.68 208.81,309.43 210.25,310.06 211.68,310.55 213.12,310.89 214.56,311.07 215.99,311.09 217.43,310.93 218.86,310.59 220.30,310.04 221.74,309.30 223.17,308.37 224.61,307.26 226.04,306.01 227.48,304.62 228.92,303.11 230.35,301.51 231.79,299.83 233.22,298.08 234.66,296.30 236.10,294.48 237.53,292.67 238.97,290.86 240.40,289.08 241.84,287.35 243.28,285.68 244.71,284.10 246.15,282.62 247.58,281.26 249.02,280.04 250.46,278.97 251.89,278.08 253.33,277.38 254.76,276.89 256.20,276.63 257.64,276.61 259.07,276.82 260.51,277.24 261.94,277.85 263.38,278.63 264.82,279.57 266.25,280.65 267.69,281.84 269.12,283.14 270.56,284.51 272.00,285.95 273.43,287.44 274.87,288.95 276.30,290.47 277.74,291.98 279.18,293.47 280.61,294.90 282.05,296.28 283.48,297.56 284.92,298.75 286.36,299.82 287.79,300.75 289.23,301.53 290.66,302.12 292.10,302.53 293.54,302.73 294.97,302.73 296.41,302.54 297.84,302.18 299.28,301.65 300.72,300.97 302.15,300.15 303.59,299.21 305.02,298.14 306.46,296.97 307.90,295.71 309.33,294.36 310.77,292.94 312.20,291.47 313.64,289.95 315.08,288.40 316.51,286.82 317.95,285.24 319.38,283.65 320.82,282.08 322.26,280.53 323.69,279.02 325.13,277.56 326.56,276.16 328.00,274.82 329.44,273.57 330.87,272.40 332.31,271.31 333.74,270.29 335.18,269.33 336.62,268.44 338.05,267.61 339.49,266.84 340.92,266.12 342.36,265.45 343.80,264.82 345.23,264.23 346.67,263.68 348.10,263.16 349.54,262.67 350.98,262.20 352.41,261.76 353.85,261.33 355.28,260.92 356.72,260.51 358.16,260.11 359.59,259.71 361.03,259.31 362.46,258.90 363.90,258.48 365.40,258.03 366.89,257.56 368.39,257.08 369.88,256.58 371.38,256.07 372.88,255.55 374.37,255.02 375.87,254.47 377.36,253.92 378.86,253.35 380.35,252.78 381.85,252.20 383.35,251.60 384.84,251.01 386.34,250.40 387.83,249.79 389.33,249.18 390.82,248.56 392.32,247.93 393.82,247.30 395.31,246.67 396.81,246.04 398.30,245.41 399.80,244.77" fill="none" stroke="#0072bd" stroke-width="2"/>
<circle cx="112.60" cy="224.10" r="2.95" fill="#fff" stroke="#d9600f" stroke-width="1.6"/>
<circle cx="148.50" cy="257.76" r="2.95" fill="#fff" stroke="#d9600f" stroke-width="1.6"/>
<circle cx="184.40" cy="287.33" r="2.95" fill="#fff" stroke="#d9600f" stroke-width="1.6"/>
<circle cx="220.30" cy="310.04" r="2.95" fill="#fff" stroke="#d9600f" stroke-width="1.6"/>
<circle cx="256.20" cy="276.63" r="2.95" fill="#fff" stroke="#d9600f" stroke-width="1.6"/>
<circle cx="292.10" cy="302.53" r="2.95" fill="#fff" stroke="#d9600f" stroke-width="1.6"/>
<circle cx="328.00" cy="274.82" r="2.95" fill="#fff" stroke="#d9600f" stroke-width="1.6"/>
<circle cx="363.90" cy="258.48" r="2.95" fill="#fff" stroke="#d9600f" stroke-width="1.6"/>
<circle cx="399.80" cy="244.77" r="2.95" fill="#fff" stroke="#d9600f" stroke-width="1.6"/>
<rect x="336.1" y="211.95" width="100.0" height="20.7" fill="#44546a"/>
<text x="386.1" y="227.5" font-size="13.7" text-anchor="middle" fill="#fff" stroke="#fff" stroke-width="0.25" >Unambiguous</text>
<text x="191.2" y="229.40" font-size="14" stroke="#000" stroke-width="0.25"><tspan font-family="'Liberation Serif', serif" font-size="15">α</tspan> = 0.081</text>
<text x="260.5" y="229.40" font-size="14" stroke="#000" stroke-width="0.25"><tspan font-family="'Liberation Serif', serif" font-size="15">β</tspan> = 0.366</text>
<rect x="76.8" y="211.7" width="359.3" height="108.6" fill="none" stroke="#262626" stroke-width="1.3"/>
<line x1="76.8" y1="320.26" x2="81.0" y2="320.26" stroke="#262626" stroke-width="1.1"/>
<text x="71" y="324.76" font-size="14" text-anchor="end" fill="#000" stroke="#000" stroke-width="0.25" >0.2</text>
<line x1="76.8" y1="308.24" x2="79.1" y2="308.24" stroke="#262626" stroke-width="1.1"/>
<line x1="76.8" y1="296.22" x2="81.0" y2="296.22" stroke="#262626" stroke-width="1.1"/>
<text x="71" y="300.72" font-size="14" text-anchor="end" fill="#000" stroke="#000" stroke-width="0.25" >0.4</text>
<line x1="76.8" y1="284.20" x2="79.1" y2="284.20" stroke="#262626" stroke-width="1.1"/>
<line x1="76.8" y1="272.18" x2="81.0" y2="272.18" stroke="#262626" stroke-width="1.1"/>
<text x="71" y="276.68" font-size="14" text-anchor="end" fill="#000" stroke="#000" stroke-width="0.25" >0.6</text>
<line x1="76.8" y1="260.16" x2="79.1" y2="260.16" stroke="#262626" stroke-width="1.1"/>
<line x1="76.8" y1="248.14" x2="81.0" y2="248.14" stroke="#262626" stroke-width="1.1"/>
<text x="71" y="252.64" font-size="14" text-anchor="end" fill="#000" stroke="#000" stroke-width="0.25" >0.8</text>
<line x1="76.8" y1="236.12" x2="79.1" y2="236.12" stroke="#262626" stroke-width="1.1"/>
<line x1="76.8" y1="224.10" x2="81.0" y2="224.10" stroke="#262626" stroke-width="1.1"/>
<text x="71" y="228.60" font-size="14" text-anchor="end" fill="#000" stroke="#000" stroke-width="0.25" >1.0</text>
<line x1="112.60" y1="320.26" x2="112.60" y2="316.06" stroke="#262626" stroke-width="1.1"/>
<text x="112.60" y="337.06" font-size="14" text-anchor="middle" fill="#000" stroke="#000" stroke-width="0.25" >0</text>
<line x1="148.50" y1="320.26" x2="148.50" y2="317.96" stroke="#262626" stroke-width="1.1"/>
<line x1="184.40" y1="320.26" x2="184.40" y2="316.06" stroke="#262626" stroke-width="1.1"/>
<text x="184.40" y="337.06" font-size="14" text-anchor="middle" fill="#000" stroke="#000" stroke-width="0.25" >2</text>
<line x1="220.30" y1="320.26" x2="220.30" y2="317.96" stroke="#262626" stroke-width="1.1"/>
<line x1="256.20" y1="320.26" x2="256.20" y2="316.06" stroke="#262626" stroke-width="1.1"/>
<text x="256.20" y="337.06" font-size="14" text-anchor="middle" fill="#000" stroke="#000" stroke-width="0.25" >4</text>
<line x1="292.10" y1="320.26" x2="292.10" y2="317.96" stroke="#262626" stroke-width="1.1"/>
<line x1="328.00" y1="320.26" x2="328.00" y2="316.06" stroke="#262626" stroke-width="1.1"/>
<text x="328.00" y="337.06" font-size="14" text-anchor="middle" fill="#000" stroke="#000" stroke-width="0.25" >6</text>
<line x1="363.90" y1="320.26" x2="363.90" y2="317.96" stroke="#262626" stroke-width="1.1"/>
<line x1="399.80" y1="320.26" x2="399.80" y2="316.06" stroke="#262626" stroke-width="1.1"/>
<text x="399.80" y="337.06" font-size="14" text-anchor="middle" fill="#000" stroke="#000" stroke-width="0.25" >8</text>
<text x="255.8" y="356.76" font-size="16.3" text-anchor="middle" fill="#000" stroke="#000" stroke-width="0.25" >Stimulus number</text>
<text transform="translate(34.5 266.28) rotate(-90)" font-size="16" text-anchor="middle" stroke="#000" stroke-width="0.25">Response</text>
<text x="0" y="405.5" font-size="16" text-anchor="start" fill="#000" font-weight="bold">e</text>
<polyline points="112.60,416.40 114.04,417.90 115.47,419.40 116.91,420.91 118.34,422.42 119.78,423.94 121.22,425.47 122.65,427.01 124.09,428.57 125.52,430.14 126.96,431.74 128.40,433.35 129.83,434.99 131.27,436.65 132.70,438.33 134.14,440.05 135.58,441.80 137.01,443.58 138.45,445.39 139.88,447.25 141.32,449.14 142.76,451.07 144.19,453.05 145.63,455.07 147.06,457.14 148.50,459.26 149.94,461.43 151.37,463.63 152.81,465.86 154.24,468.09 155.68,470.33 157.12,472.54 158.55,474.71 159.99,476.84 161.42,478.90 162.86,480.88 164.30,482.77 165.73,484.56 167.17,486.22 168.60,487.75 170.04,489.13 171.48,490.34 172.91,491.38 174.35,492.22 175.78,492.85 177.22,493.26 178.66,493.44 180.09,493.36 181.53,493.02 182.96,492.40 184.40,491.48 185.84,490.26 187.27,488.77 188.71,487.02 190.14,485.04 191.58,482.86 193.02,480.51 194.45,478.02 195.89,475.42 197.32,472.72 198.76,469.97 200.20,467.18 201.63,464.38 203.07,461.61 204.50,458.89 205.94,456.24 207.38,453.70 208.81,451.29 210.25,449.04 211.68,446.97 213.12,445.12 214.56,443.51 215.99,442.18 217.43,441.13 218.86,440.42 220.30,440.05 221.74,440.06 223.17,440.41 224.61,441.09 226.04,442.06 227.48,443.29 228.92,444.76 230.35,446.44 231.79,448.28 233.22,450.28 234.66,452.40 236.10,454.60 237.53,456.87 238.97,459.16 240.40,461.46 241.84,463.73 243.28,465.94 244.71,468.07 246.15,470.09 247.58,471.96 249.02,473.66 250.46,475.16 251.89,476.43 253.33,477.44 254.76,478.17 256.20,478.57 257.64,478.64 259.07,478.38 260.51,477.83 261.94,477.01 263.38,475.95 264.82,474.66 266.25,473.18 267.69,471.53 269.12,469.73 270.56,467.81 272.00,465.79 273.43,463.71 274.87,461.58 276.30,459.43 277.74,457.29 279.18,455.18 280.61,453.12 282.05,451.14 283.48,449.27 284.92,447.53 286.36,445.95 287.79,444.55 289.23,443.35 290.66,442.39 292.10,441.68 293.54,441.25 294.97,441.08 296.41,441.17 297.84,441.50 299.28,442.06 300.72,442.83 302.15,443.80 303.59,444.95 305.02,446.28 306.46,447.77 307.90,449.40 309.33,451.16 310.77,453.04 312.20,455.02 313.64,457.10 315.08,459.25 316.51,461.46 317.95,463.72 319.38,466.01 320.82,468.33 322.26,470.66 323.69,472.98 325.13,475.28 326.56,477.54 328.00,479.76 329.44,481.92 330.87,484.02 332.31,486.04 333.74,487.99 335.18,489.85 336.62,491.62 338.05,493.30 339.49,494.87 340.92,496.34 342.36,497.70 343.80,498.94 345.23,500.05 346.67,501.04 348.10,501.89 349.54,502.60 350.98,503.17 352.41,503.58 353.85,503.83 355.28,503.92 356.72,503.84 358.16,503.59 359.59,503.15 361.03,502.53 362.46,501.72 363.90,500.70 365.40,499.44 366.89,497.95 368.39,496.27 369.88,494.39 371.38,492.33 372.88,490.09 374.37,487.69 375.87,485.13 377.36,482.43 378.86,479.58 380.35,476.61 381.85,473.51 383.35,470.31 384.84,467.00 386.34,463.61 387.83,460.12 389.33,456.57 390.82,452.95 392.32,449.28 393.82,445.56 395.31,441.80 396.81,438.01 398.30,434.21 399.80,430.40" fill="none" stroke="#0072bd" stroke-width="2"/>
<circle cx="112.60" cy="416.40" r="2.95" fill="#fff" stroke="#d9600f" stroke-width="1.6"/>
<circle cx="148.50" cy="459.26" r="2.95" fill="#fff" stroke="#d9600f" stroke-width="1.6"/>
<circle cx="184.40" cy="491.48" r="2.95" fill="#fff" stroke="#d9600f" stroke-width="1.6"/>
<circle cx="220.30" cy="440.05" r="2.95" fill="#fff" stroke="#d9600f" stroke-width="1.6"/>
<circle cx="256.20" cy="478.57" r="2.95" fill="#fff" stroke="#d9600f" stroke-width="1.6"/>
<circle cx="292.10" cy="441.68" r="2.95" fill="#fff" stroke="#d9600f" stroke-width="1.6"/>
<circle cx="328.00" cy="479.76" r="2.95" fill="#fff" stroke="#d9600f" stroke-width="1.6"/>
<circle cx="363.90" cy="500.70" r="2.95" fill="#fff" stroke="#d9600f" stroke-width="1.6"/>
<circle cx="399.80" cy="430.40" r="2.95" fill="#fff" stroke="#d9600f" stroke-width="1.6"/>
<rect x="336.1" y="405.75" width="100.0" height="20.7" fill="#44546a"/>
<text x="386.1" y="421.3" font-size="13.7" text-anchor="middle" fill="#fff" stroke="#fff" stroke-width="0.25" >Ambiguous</text>
<text x="191.2" y="424.40" font-size="14" stroke="#000" stroke-width="0.25"><tspan font-family="'Liberation Serif', serif" font-size="15">α</tspan> = 0.145</text>
<text x="260.5" y="424.40" font-size="14" stroke="#000" stroke-width="0.25"><tspan font-family="'Liberation Serif', serif" font-size="15">β</tspan> = 0.539</text>
<rect x="76.8" y="405.5" width="359.3" height="108.5" fill="none" stroke="#262626" stroke-width="1.3"/>
<line x1="76.8" y1="514.05" x2="79.1" y2="514.05" stroke="#262626" stroke-width="1.1"/>
<line x1="76.8" y1="503.20" x2="81.0" y2="503.20" stroke="#262626" stroke-width="1.1"/>
<text x="71" y="507.70" font-size="14" text-anchor="end" fill="#000" stroke="#000" stroke-width="0.25" >0.2</text>
<line x1="76.8" y1="492.35" x2="79.1" y2="492.35" stroke="#262626" stroke-width="1.1"/>
<line x1="76.8" y1="481.50" x2="81.0" y2="481.50" stroke="#262626" stroke-width="1.1"/>
<text x="71" y="486.00" font-size="14" text-anchor="end" fill="#000" stroke="#000" stroke-width="0.25" >0.4</text>
<line x1="76.8" y1="470.65" x2="79.1" y2="470.65" stroke="#262626" stroke-width="1.1"/>
<line x1="76.8" y1="459.80" x2="81.0" y2="459.80" stroke="#262626" stroke-width="1.1"/>
<text x="71" y="464.30" font-size="14" text-anchor="end" fill="#000" stroke="#000" stroke-width="0.25" >0.6</text>
<line x1="76.8" y1="448.95" x2="79.1" y2="448.95" stroke="#262626" stroke-width="1.1"/>
<line x1="76.8" y1="438.10" x2="81.0" y2="438.10" stroke="#262626" stroke-width="1.1"/>
<text x="71" y="442.60" font-size="14" text-anchor="end" fill="#000" stroke="#000" stroke-width="0.25" >0.8</text>
<line x1="76.8" y1="427.25" x2="79.1" y2="427.25" stroke="#262626" stroke-width="1.1"/>
<line x1="76.8" y1="416.40" x2="81.0" y2="416.40" stroke="#262626" stroke-width="1.1"/>
<text x="71" y="420.90" font-size="14" text-anchor="end" fill="#000" stroke="#000" stroke-width="0.25" >1.0</text>
<line x1="112.60" y1="514.05" x2="112.60" y2="509.85" stroke="#262626" stroke-width="1.1"/>
<text x="112.60" y="530.85" font-size="14" text-anchor="middle" fill="#000" stroke="#000" stroke-width="0.25" >0</text>
<line x1="148.50" y1="514.05" x2="148.50" y2="511.75" stroke="#262626" stroke-width="1.1"/>
<line x1="184.40" y1="514.05" x2="184.40" y2="509.85" stroke="#262626" stroke-width="1.1"/>
<text x="184.40" y="530.85" font-size="14" text-anchor="middle" fill="#000" stroke="#000" stroke-width="0.25" >2</text>
<line x1="220.30" y1="514.05" x2="220.30" y2="511.75" stroke="#262626" stroke-width="1.1"/>
<line x1="256.20" y1="514.05" x2="256.20" y2="509.85" stroke="#262626" stroke-width="1.1"/>
<text x="256.20" y="530.85" font-size="14" text-anchor="middle" fill="#000" stroke="#000" stroke-width="0.25" >4</text>
<line x1="292.10" y1="514.05" x2="292.10" y2="511.75" stroke="#262626" stroke-width="1.1"/>
<line x1="328.00" y1="514.05" x2="328.00" y2="509.85" stroke="#262626" stroke-width="1.1"/>
<text x="328.00" y="530.85" font-size="14" text-anchor="middle" fill="#000" stroke="#000" stroke-width="0.25" >6</text>
<line x1="363.90" y1="514.05" x2="363.90" y2="511.75" stroke="#262626" stroke-width="1.1"/>
<line x1="399.80" y1="514.05" x2="399.80" y2="509.85" stroke="#262626" stroke-width="1.1"/>
<text x="399.80" y="530.85" font-size="14" text-anchor="middle" fill="#000" stroke="#000" stroke-width="0.25" >8</text>
<text x="255.8" y="550.55" font-size="16.3" text-anchor="middle" fill="#000" stroke="#000" stroke-width="0.25" >Stimulus number</text>
<text transform="translate(34.5 460.07) rotate(-90)" font-size="16" text-anchor="middle" stroke="#000" stroke-width="0.25">Response</text>
<text x="470.2" y="191.2" font-size="14" text-anchor="middle" fill="#000" stroke="#000" stroke-width="0.25" >Stimulus burst</text>
<text x="594" y="191.2" font-size="14" text-anchor="middle" fill="#000" stroke="#000" stroke-width="0.25" >Silent interval</text>
<line x1="462.6" y1="195" x2="462.6" y2="211.2" stroke="#4472c4" stroke-width="1.7"/>
<line x1="477.3" y1="195" x2="477.3" y2="211.2" stroke="#4472c4" stroke-width="1.7"/>
<line x1="464.6" y1="203.4" x2="475.3" y2="203.4" stroke="#4472c4" stroke-width="0.9"/>
<path d="M463.40000000000003 203.4 l3.4 -2 v4 z M476.5 203.4 l-3.4 -2 v4 z" fill="#4472c4"/>
<line x1="562.8" y1="195" x2="562.8" y2="211.2" stroke="#4472c4" stroke-width="1.7"/>
<line x1="625.5" y1="195" x2="625.5" y2="211.2" stroke="#4472c4" stroke-width="1.7"/>
<line x1="564.8" y1="202.6" x2="623.5" y2="202.6" stroke="#4472c4" stroke-width="0.9"/>
<path d="M563.5999999999999 202.6 l3.4 -2 v4 z M624.7 202.6 l-3.4 -2 v4 z" fill="#4472c4"/>
<line x1="460.9" y1="220.8" x2="629.5" y2="220.8" stroke="#c8c8c8" stroke-width="2.8"/>
<line x1="460.9" y1="220.8" x2="629.5" y2="220.8" stroke="#909090" stroke-width="2.8" stroke-dasharray="2.1 1.1"/>
<path d="M463.40 211.10 Q464.26 217.60 466.00 220.80 Q464.26 224.00 463.40 230.50 Q462.54 224.00 460.80 220.80 Q462.54 217.60 463.40 211.10 Z" fill="#7c7c7c"/>
<line x1="463.40" y1="211.10" x2="463.40" y2="230.50" stroke="#7c7c7c" stroke-width="0.8"/>
<path d="M466.50 208.50 Q467.03 216.74 468.10 220.80 Q467.03 224.86 466.50 233.10 Q465.97 224.86 464.90 220.80 Q465.97 216.74 466.50 208.50 Z" fill="#888888"/>
<line x1="466.50" y1="208.50" x2="466.50" y2="233.10" stroke="#888888" stroke-width="0.8"/>
<path d="M469.60 213.40 Q470.33 218.36 471.80 220.80 Q470.33 223.24 469.60 228.20 Q468.87 223.24 467.40 220.80 Q468.87 218.36 469.60 213.40 Z" fill="#858585"/>
<line x1="469.60" y1="213.40" x2="469.60" y2="228.20" stroke="#858585" stroke-width="0.8"/>
<path d="M484.60 211.10 Q485.46 217.60 487.20 220.80 Q485.46 224.00 484.60 230.50 Q483.74 224.00 482.00 220.80 Q483.74 217.60 484.60 211.10 Z" fill="#7c7c7c"/>
<line x1="484.60" y1="211.10" x2="484.60" y2="230.50" stroke="#7c7c7c" stroke-width="0.8"/>
<path d="M487.70 208.50 Q488.23 216.74 489.30 220.80 Q488.23 224.86 487.70 233.10 Q487.17 224.86 486.10 220.80 Q487.17 216.74 487.70 208.50 Z" fill="#888888"/>
<line x1="487.70" y1="208.50" x2="487.70" y2="233.10" stroke="#888888" stroke-width="0.8"/>
<path d="M490.80 213.40 Q491.53 218.36 493.00 220.80 Q491.53 223.24 490.80 228.20 Q490.07 223.24 488.60 220.80 Q490.07 218.36 490.80 213.40 Z" fill="#858585"/>
<line x1="490.80" y1="213.40" x2="490.80" y2="228.20" stroke="#858585" stroke-width="0.8"/>
<path d="M505.80 211.10 Q506.66 217.60 508.40 220.80 Q506.66 224.00 505.80 230.50 Q504.94 224.00 503.20 220.80 Q504.94 217.60 505.80 211.10 Z" fill="#7c7c7c"/>
<line x1="505.80" y1="211.10" x2="505.80" y2="230.50" stroke="#7c7c7c" stroke-width="0.8"/>
<path d="M508.90 208.50 Q509.43 216.74 510.50 220.80 Q509.43 224.86 508.90 233.10 Q508.37 224.86 507.30 220.80 Q508.37 216.74 508.90 208.50 Z" fill="#888888"/>
<line x1="508.90" y1="208.50" x2="508.90" y2="233.10" stroke="#888888" stroke-width="0.8"/>
<path d="M512.00 213.40 Q512.73 218.36 514.20 220.80 Q512.73 223.24 512.00 228.20 Q511.27 223.24 509.80 220.80 Q511.27 218.36 512.00 213.40 Z" fill="#858585"/>
<line x1="512.00" y1="213.40" x2="512.00" y2="228.20" stroke="#858585" stroke-width="0.8"/>
<path d="M548.20 211.10 Q549.06 217.60 550.80 220.80 Q549.06 224.00 548.20 230.50 Q547.34 224.00 545.60 220.80 Q547.34 217.60 548.20 211.10 Z" fill="#7c7c7c"/>
<line x1="548.20" y1="211.10" x2="548.20" y2="230.50" stroke="#7c7c7c" stroke-width="0.8"/>
<path d="M551.30 208.50 Q551.83 216.74 552.90 220.80 Q551.83 224.86 551.30 233.10 Q550.77 224.86 549.70 220.80 Q550.77 216.74 551.30 208.50 Z" fill="#888888"/>
<line x1="551.30" y1="208.50" x2="551.30" y2="233.10" stroke="#888888" stroke-width="0.8"/>
<path d="M554.40 213.40 Q555.13 218.36 556.60 220.80 Q555.13 223.24 554.40 228.20 Q553.67 223.24 552.20 220.80 Q553.67 218.36 554.40 213.40 Z" fill="#858585"/>
<line x1="554.40" y1="213.40" x2="554.40" y2="228.20" stroke="#858585" stroke-width="0.8"/>
<circle cx="637.2" cy="220.8" r="3.3" fill="#000"/>
<circle cx="643.1" cy="220.8" r="3.3" fill="#000"/>
<circle cx="649.0" cy="220.8" r="3.3" fill="#000"/>
<path d="M537.85 242.5 H554.85 V249.8 H563.35 L546.35 257.1 L529.35 249.8 H537.85 Z" fill="#ed7d31"/>
<text x="571" y="253.6" font-size="14" text-anchor="start" fill="#000" stroke="#000" stroke-width="0.25" >Binarization</text>
<text x="516.2" y="282.1" font-size="14" stroke="#000" stroke-width="0.25"><tspan fill="#333" stroke="#333">1</tspan>1101000</text>
<line x1="516.80" y1="284.00" x2="523.58" y2="284.00" stroke="#444" stroke-width="1.1"/>
<text x="585" y="282.1" font-size="14" text-anchor="start" fill="#000" stroke="#000" stroke-width="0.25" >Input/stimulus</text>
<path d="M537.85 297.1 H554.85 V304.40000000000003 H563.35 L546.35 311.70000000000005 L529.35 304.40000000000003 H537.85 Z" fill="#ed7d31"/>
<text x="569.6" y="311.3" font-size="14" text-anchor="start" fill="#000" stroke="#000" stroke-width="0.25" >Input to model</text>
<rect x="472.00" y="321.6" width="16.51" height="33.0" fill="#525252"/>
<rect x="488.31" y="321.6" width="16.51" height="33.0" fill="#787878"/>
<rect x="504.62" y="321.6" width="16.51" height="33.0" fill="#c6c6c6"/>
<rect x="520.93" y="321.6" width="16.51" height="33.0" fill="#ebebeb"/>
<rect x="537.24" y="321.6" width="16.51" height="33.0" fill="#c3c3c3"/>
<rect x="553.56" y="321.6" width="16.51" height="33.0" fill="#dadada"/>
<rect x="569.87" y="321.6" width="16.51" height="33.0" fill="#c9c9c9"/>
<rect x="586.18" y="321.6" width="16.51" height="33.0" fill="#7a7a7a"/>
<rect x="602.49" y="321.6" width="16.51" height="33.0" fill="#525252"/>
<line x1="488.31" y1="321.6" x2="488.31" y2="354.6" stroke="#fff" stroke-width="0.8" opacity="0.85"/>
<line x1="504.62" y1="321.6" x2="504.62" y2="354.6" stroke="#fff" stroke-width="0.8" opacity="0.85"/>
<line x1="520.93" y1="321.6" x2="520.93" y2="354.6" stroke="#fff" stroke-width="0.8" opacity="0.85"/>
<line x1="537.24" y1="321.6" x2="537.24" y2="354.6" stroke="#fff" stroke-width="0.8" opacity="0.85"/>
<line x1="553.56" y1="321.6" x2="553.56" y2="354.6" stroke="#fff" stroke-width="0.8" opacity="0.85"/>
<line x1="569.87" y1="321.6" x2="569.87" y2="354.6" stroke="#fff" stroke-width="0.8" opacity="0.85"/>
<line x1="586.18" y1="321.6" x2="586.18" y2="354.6" stroke="#fff" stroke-width="0.8" opacity="0.85"/>
<line x1="602.49" y1="321.6" x2="602.49" y2="354.6" stroke="#fff" stroke-width="0.8" opacity="0.85"/>
<rect x="472" y="321.6" width="146.80" height="33.0" fill="none" stroke="#f6c22a" stroke-width="1.1"/>
<line x1="488.31" y1="345.0" x2="488.31" y2="353.20000000000005" stroke="#a0a0a0" stroke-width="1.7"/>
<path d="M488.31 342.00 l-2.8 5 h5.6 z" fill="#a0a0a0"/>
<line x1="504.62" y1="345.0" x2="504.62" y2="353.20000000000005" stroke="#44546a" stroke-width="1.7"/>
<path d="M504.62 342.00 l-2.8 5 h5.6 z" fill="#44546a"/>
<line x1="520.93" y1="345.0" x2="520.93" y2="353.20000000000005" stroke="#44546a" stroke-width="1.7"/>
<path d="M520.93 342.00 l-2.8 5 h5.6 z" fill="#44546a"/>
<line x1="553.56" y1="345.0" x2="553.56" y2="353.20000000000005" stroke="#44546a" stroke-width="1.7"/>
<path d="M553.56 342.00 l-2.8 5 h5.6 z" fill="#44546a"/>
<text x="549.8" y="369.2" font-size="14" text-anchor="middle" fill="#000" stroke="#000" stroke-width="0.25" >Output/response</text>
<line x1="461.5" y1="413.6" x2="629.5" y2="413.6" stroke="#c8c8c8" stroke-width="2.8"/>
<line x1="461.5" y1="413.6" x2="629.5" y2="413.6" stroke="#909090" stroke-width="2.8" stroke-dasharray="2.1 1.1"/>
<path d="M464.00 403.90 Q464.86 410.40 466.60 413.60 Q464.86 416.80 464.00 423.30 Q463.14 416.80 461.40 413.60 Q463.14 410.40 464.00 403.90 Z" fill="#7c7c7c"/>
<line x1="464.00" y1="403.90" x2="464.00" y2="423.30" stroke="#7c7c7c" stroke-width="0.8"/>
<path d="M467.10 401.30 Q467.63 409.54 468.70 413.60 Q467.63 417.66 467.10 425.90 Q466.57 417.66 465.50 413.60 Q466.57 409.54 467.10 401.30 Z" fill="#888888"/>
<line x1="467.10" y1="401.30" x2="467.10" y2="425.90" stroke="#888888" stroke-width="0.8"/>
<path d="M470.20 406.20 Q470.93 411.16 472.40 413.60 Q470.93 416.04 470.20 421.00 Q469.47 416.04 468.00 413.60 Q469.47 411.16 470.20 406.20 Z" fill="#858585"/>
<line x1="470.20" y1="406.20" x2="470.20" y2="421.00" stroke="#858585" stroke-width="0.8"/>
<path d="M485.15 403.90 Q486.01 410.40 487.75 413.60 Q486.01 416.80 485.15 423.30 Q484.29 416.80 482.55 413.60 Q484.29 410.40 485.15 403.90 Z" fill="#7c7c7c"/>
<line x1="485.15" y1="403.90" x2="485.15" y2="423.30" stroke="#7c7c7c" stroke-width="0.8"/>
<path d="M488.25 401.30 Q488.78 409.54 489.85 413.60 Q488.78 417.66 488.25 425.90 Q487.72 417.66 486.65 413.60 Q487.72 409.54 488.25 401.30 Z" fill="#888888"/>
<line x1="488.25" y1="401.30" x2="488.25" y2="425.90" stroke="#888888" stroke-width="0.8"/>
<path d="M491.35 406.20 Q492.08 411.16 493.55 413.60 Q492.08 416.04 491.35 421.00 Q490.62 416.04 489.15 413.60 Q490.62 411.16 491.35 406.20 Z" fill="#858585"/>
<line x1="491.35" y1="406.20" x2="491.35" y2="421.00" stroke="#858585" stroke-width="0.8"/>
<path d="M527.45 403.90 Q528.31 410.40 530.05 413.60 Q528.31 416.80 527.45 423.30 Q526.59 416.80 524.85 413.60 Q526.59 410.40 527.45 403.90 Z" fill="#7c7c7c"/>
<line x1="527.45" y1="403.90" x2="527.45" y2="423.30" stroke="#7c7c7c" stroke-width="0.8"/>
<path d="M530.55 401.30 Q531.08 409.54 532.15 413.60 Q531.08 417.66 530.55 425.90 Q530.02 417.66 528.95 413.60 Q530.02 409.54 530.55 401.30 Z" fill="#888888"/>
<line x1="530.55" y1="401.30" x2="530.55" y2="425.90" stroke="#888888" stroke-width="0.8"/>
<path d="M533.65 406.20 Q534.38 411.16 535.85 413.60 Q534.38 416.04 533.65 421.00 Q532.92 416.04 531.45 413.60 Q532.92 411.16 533.65 406.20 Z" fill="#858585"/>
<line x1="533.65" y1="406.20" x2="533.65" y2="421.00" stroke="#858585" stroke-width="0.8"/>
<path d="M569.75 403.90 Q570.61 410.40 572.35 413.60 Q570.61 416.80 569.75 423.30 Q568.89 416.80 567.15 413.60 Q568.89 410.40 569.75 403.90 Z" fill="#7c7c7c"/>
<line x1="569.75" y1="403.90" x2="569.75" y2="423.30" stroke="#7c7c7c" stroke-width="0.8"/>
<path d="M572.85 401.30 Q573.38 409.54 574.45 413.60 Q573.38 417.66 572.85 425.90 Q572.32 417.66 571.25 413.60 Q572.32 409.54 572.85 401.30 Z" fill="#888888"/>
<line x1="572.85" y1="401.30" x2="572.85" y2="425.90" stroke="#888888" stroke-width="0.8"/>
<path d="M575.95 406.20 Q576.68 411.16 578.15 413.60 Q576.68 416.04 575.95 421.00 Q575.22 416.04 573.75 413.60 Q575.22 411.16 575.95 406.20 Z" fill="#858585"/>
<line x1="575.95" y1="406.20" x2="575.95" y2="421.00" stroke="#858585" stroke-width="0.8"/>
<path d="M590.90 403.90 Q591.76 410.40 593.50 413.60 Q591.76 416.80 590.90 423.30 Q590.04 416.80 588.30 413.60 Q590.04 410.40 590.90 403.90 Z" fill="#7c7c7c"/>
<line x1="590.90" y1="403.90" x2="590.90" y2="423.30" stroke="#7c7c7c" stroke-width="0.8"/>
<path d="M594.00 401.30 Q594.53 409.54 595.60 413.60 Q594.53 417.66 594.00 425.90 Q593.47 417.66 592.40 413.60 Q593.47 409.54 594.00 401.30 Z" fill="#888888"/>
<line x1="594.00" y1="401.30" x2="594.00" y2="425.90" stroke="#888888" stroke-width="0.8"/>
<path d="M597.10 406.20 Q597.83 411.16 599.30 413.60 Q597.83 416.04 597.10 421.00 Q596.37 416.04 594.90 413.60 Q596.37 411.16 597.10 406.20 Z" fill="#858585"/>
<line x1="597.10" y1="406.20" x2="597.10" y2="421.00" stroke="#858585" stroke-width="0.8"/>
<circle cx="637.2" cy="413.6" r="3.3" fill="#000"/>
<circle cx="643.1" cy="413.6" r="3.3" fill="#000"/>
<circle cx="649.0" cy="413.6" r="3.3" fill="#000"/>
<path d="M537.85 434.9 H554.85 V442.2 H563.35 L546.35 449.5 L529.35 442.2 H537.85 Z" fill="#ed7d31"/>
<text x="569.8" y="447.5" font-size="14" text-anchor="start" fill="#000" stroke="#000" stroke-width="0.25" >Binarization</text>
<text x="516.2" y="473.4" font-size="14" stroke="#000" stroke-width="0.25"><tspan fill="#333" stroke="#333">1</tspan>10<tspan fill="#333" stroke="#333">1</tspan>0<tspan fill="#333" stroke="#333">1</tspan>10</text>
<line x1="516.80" y1="475.30" x2="523.58" y2="475.30" stroke="#999" stroke-width="1.1"/>
<line x1="540.15" y1="475.30" x2="546.94" y2="475.30" stroke="#999" stroke-width="1.1"/>
<line x1="555.72" y1="475.30" x2="562.50" y2="475.30" stroke="#999" stroke-width="1.1"/>
<text x="586.2" y="473.4" font-size="14" text-anchor="start" fill="#000" stroke="#000" stroke-width="0.25" >Input/stimulus</text>
<path d="M537.85 487.5 H554.85 V494.8 H563.35 L546.35 502.1 L529.35 494.8 H537.85 Z" fill="#ed7d31"/>
<text x="565.9" y="503.8" font-size="14" text-anchor="start" fill="#000" stroke="#000" stroke-width="0.25" >Input to model</text>
<rect x="473.00" y="510.8" width="16.49" height="32.99999999999994" fill="#4f4f4f"/>
<rect x="489.29" y="510.8" width="16.49" height="32.99999999999994" fill="#777777"/>
<rect x="505.58" y="510.8" width="16.49" height="32.99999999999994" fill="#ebebeb"/>
<rect x="521.87" y="510.8" width="16.49" height="32.99999999999994" fill="#777777"/>
<rect x="538.16" y="510.8" width="16.49" height="32.99999999999994" fill="#d9d9d9"/>
<rect x="554.44" y="510.8" width="16.49" height="32.99999999999994" fill="#7a7a7a"/>
<rect x="570.73" y="510.8" width="16.49" height="32.99999999999994" fill="#d9d9d9"/>
<rect x="587.02" y="510.8" width="16.49" height="32.99999999999994" fill="#ebebeb"/>
<rect x="603.31" y="510.8" width="16.49" height="32.99999999999994" fill="#505050"/>
<line x1="489.29" y1="510.8" x2="489.29" y2="543.8" stroke="#fff" stroke-width="0.8" opacity="0.85"/>
<line x1="505.58" y1="510.8" x2="505.58" y2="543.8" stroke="#fff" stroke-width="0.8" opacity="0.85"/>
<line x1="521.87" y1="510.8" x2="521.87" y2="543.8" stroke="#fff" stroke-width="0.8" opacity="0.85"/>
<line x1="538.16" y1="510.8" x2="538.16" y2="543.8" stroke="#fff" stroke-width="0.8" opacity="0.85"/>
<line x1="554.44" y1="510.8" x2="554.44" y2="543.8" stroke="#fff" stroke-width="0.8" opacity="0.85"/>
<line x1="570.73" y1="510.8" x2="570.73" y2="543.8" stroke="#fff" stroke-width="0.8" opacity="0.85"/>
<line x1="587.02" y1="510.8" x2="587.02" y2="543.8" stroke="#fff" stroke-width="0.8" opacity="0.85"/>
<line x1="603.31" y1="510.8" x2="603.31" y2="543.8" stroke="#fff" stroke-width="0.8" opacity="0.85"/>
<rect x="473" y="510.8" width="146.60" height="32.99999999999994" fill="none" stroke="#f6c22a" stroke-width="1.1"/>
<line x1="489.29" y1="534.1999999999999" x2="489.29" y2="542.4" stroke="#a0a0a0" stroke-width="1.7"/>
<path d="M489.29 531.20 l-2.8 5 h5.6 z" fill="#a0a0a0"/>
<line x1="505.58" y1="534.1999999999999" x2="505.58" y2="542.4" stroke="#44546a" stroke-width="1.7"/>
<path d="M505.58 531.20 l-2.8 5 h5.6 z" fill="#44546a"/>
<line x1="538.16" y1="534.1999999999999" x2="538.16" y2="542.4" stroke="#a0a0a0" stroke-width="1.7"/>
<path d="M538.16 531.20 l-2.8 5 h5.6 z" fill="#a0a0a0"/>
<line x1="570.73" y1="534.1999999999999" x2="570.73" y2="542.4" stroke="#a0a0a0" stroke-width="1.7"/>
<path d="M570.73 531.20 l-2.8 5 h5.6 z" fill="#a0a0a0"/>
<text x="551" y="559.3" font-size="14" text-anchor="middle" fill="#000" stroke="#000" stroke-width="0.25" >Output/response</text>
</svg>
</body></html>
